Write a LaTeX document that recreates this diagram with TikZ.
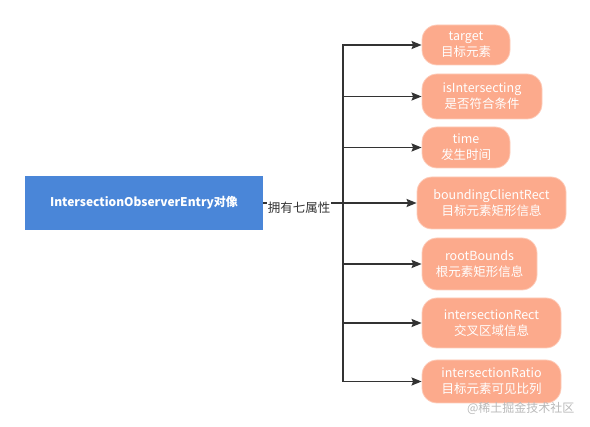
\documentclass[tikz,border=0pt]{standalone}
\usepackage{fontspec}
\setmainfont{Noto Sans CJK SC}
\usetikzlibrary{arrows.meta}

\definecolor{entryblue}{RGB}{74,134,216}
\definecolor{propsalmon}{RGB}{252,170,140}
\definecolor{linkgray}{RGB}{51,51,51}
\definecolor{markgray}{RGB}{185,185,185}

\begin{document}
\begin{tikzpicture}[x=1pt, y=-1pt,
      >={Stealth[length=10pt, width=8pt, inset=1.5pt]},
      entrybox/.style={
        fill=entryblue,
        text=white,
        font=\fontsize{12}{14}\selectfont\bfseries,
        minimum width=238pt,
        minimum height=54pt,
        inner sep=0pt
      },
      propbox/.style={
        fill=propsalmon,
        draw=propsalmon!60!white,
        line width=0.8pt,
        rounded corners=15pt,
        text=white,
        align=center,
        font=\fontsize{12.5}{16}\selectfont,
        inner sep=0pt
      },
      link/.style={
        ->,
        draw=linkgray,
        line width=1.6pt
      },
      edgelabel/.style={
        fill=white,
        text=linkgray,
        font=\fontsize{12.5}{14}\selectfont,
        minimum height=17pt,
        inner xsep=0.5pt,
        inner ysep=0pt
      },
    ]

    \useasboundingbox (0, 0) rectangle (590, 427);

    \node [entrybox] (entry) at (144, 203) {IntersectionObserverEntry对像};
    \coordinate (fork) at (343, 203);

    \node [propbox, minimum width=88pt, minimum height=40pt]
          (target) at (466, 45) {target\\目标元素};
    \node [propbox, minimum width=120pt, minimum height=45pt]
          (isect) at (482, 96.5) {isIntersecting\\是否符合条件};
    \node [propbox, minimum width=88pt, minimum height=41pt]
          (time) at (466, 147.5) {time\\发生时间};
    \node [propbox, minimum width=149pt, minimum height=52pt]
          (bcr) at (491.5, 203) {boundingClientRect\\目标元素矩形信息};
    \node [propbox, minimum width=115pt, minimum height=52pt]
          (root) at (479.5, 264) {rootBounds\\根元素矩形信息};
    \node [propbox, minimum width=139pt, minimum height=50pt]
          (irect) at (491.5, 323) {intersectionRect\\交叉区域信息};
    \node [propbox, minimum width=139pt, minimum height=43pt]
          (iratio) at (491.5, 381.5) {intersectionRatio\\目标元素可见比列};

    \foreach \prop in {target, isect, time, bcr, root, irect, iratio}
      \draw [link] (entry.east) -- (fork) |- (\prop.west);

    \path (entry.east) -- (fork)
          node [edgelabel, pos=0.45, yshift=-5pt] {拥有七属性};

    \node [text=markgray, font=\fontsize{12}{14}\selectfont, anchor=east]
          (mark) at (578, 408) {@稀土掘金技术社区};
\end{tikzpicture}
\end{document}
